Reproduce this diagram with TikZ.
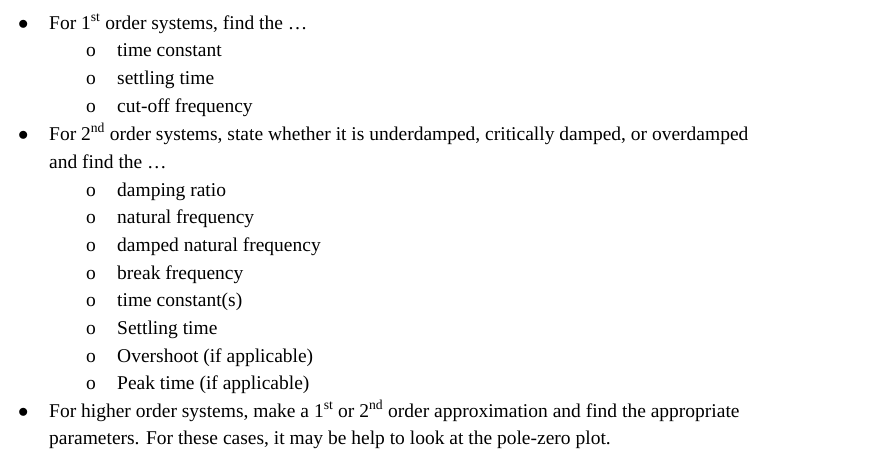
\documentclass[tikz,border=0pt]{standalone}
\usepackage{fontspec}
\setmainfont{Liberation Serif}
\begin{document}
\begin{tikzpicture}[x=1pt,y=-1pt,
  txt/.style={anchor=base west,inner sep=0pt,font=\fontsize{19.5}{23}\selectfont},
  bul/.style={anchor=base west,inner sep=0pt,font=\fontsize{19.5}{23}\selectfont}]
\useasboundingbox (0,0) rectangle (874,458);
\def\B{$\bullet$}
\newcommand\myb[3]{\node[bul] (b#1) at (18,#2) {\B}; \node[txt] (t#1) at (49,#2) {#3};}
\newcommand\mys[3]{\node[bul] (b#1) at (86,#2) {o}; \node[txt] (t#1) at (117,#2) {#3};}
\myb{1}{29}{For 1\textsuperscript{st} order systems, find the \dots}
\mys{2}{56}{time constant}
\mys{3}{84}{settling time}
\mys{4}{112}{cut-off frequency}
\myb{5}{140}{For 2\textsuperscript{nd} order systems, state whether it is underdamped, critically damped, or overdamped}
\node[txt] (t5b) at (49,168) {and find the \dots};
\mys{6}{196}{damping ratio}
\mys{7}{223}{natural frequency}
\mys{8}{251}{damped natural frequency}
\mys{9}{279}{break frequency}
\mys{10}{306}{time constant(s)}
\mys{11}{334}{Settling time}
\mys{12}{362}{Overshoot (if applicable)}
\mys{13}{389}{Peak time (if applicable)}
\myb{14}{417}{For higher order systems, make a 1\textsuperscript{st} or 2\textsuperscript{nd} order approximation and find the appropriate}
\node[txt] (t14b) at (49,444) {parameters. For these cases, it may be help to look at the pole-zero plot.};
\end{tikzpicture}
\end{document}
